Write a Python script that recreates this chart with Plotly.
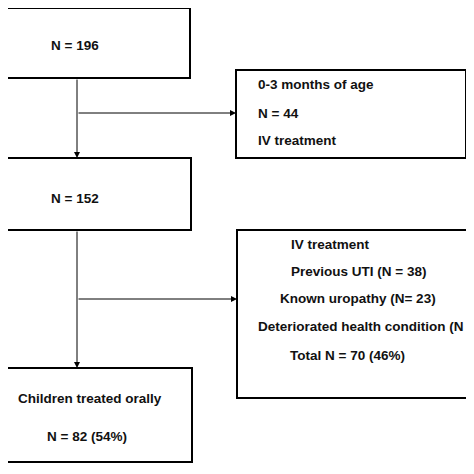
import plotly.graph_objects as go

# boxes: x0, x1, y0, y1 (pixel-like layout units)
box_x0 = [-2, 236, -2, 237, -2]
box_x1 = [190, 466, 191, 490, 192]
box_y0 = [8, 70, 158, 230, 368]
box_y1 = [78, 158, 230, 398, 462]

texts = ["Children with febrile UTI", "N = 196",
         "0-3 months of age", "N = 44", "IV treatment",
         "hildren > 3 months of age", "N = 152",
         "IV treatment", "Previous UTI (N = 38)", "Known uropathy (N= 23)",
         "Deteriorated health condition (N =", "Total N = 70 (46%)",
         "Children treated orally", "N = 82 (54%)"]
text_x = [5, 75, 256, 256, 256, 1, 75, 330, 358, 358, 256, 347, 16, 87]
text_y = [18, 45, 84, 113, 140, 170, 198, 244, 271, 298, 326, 355, 398, 436]
text_anchor = ["left", "center", "left", "left", "left", "left", "center",
               "center", "center", "center", "left", "center", "left", "center"]

# arrows: start (x,y) -> end (x,y)
arr_from = [(77, 78), (77, 113), (77, 230), (77, 299)]
arr_to = [(77, 158), (236, 113), (77, 368), (237, 299)]

fig = go.Figure()
shapes = []
for x0, x1, y0, y1 in zip(box_x0, box_x1, box_y0, box_y1):
    shapes.append(dict(type="rect", x0=x0, x1=x1, y0=y0, y1=y1,
                       line=dict(color="black", width=2), fillcolor="white"))
ann = []
for t, x, y, a in zip(texts, text_x, text_y, text_anchor):
    ann.append(dict(x=x, y=y, text="<b>%s</b>" % t, showarrow=False,
                    xanchor=a, yanchor="middle",
                    font=dict(family="Liberation Sans, Arial", size=13.5, color="#111")))
for (xs, ys), (xe, ye) in zip(arr_from, arr_to):
    ann.append(dict(x=xe, y=ye, ax=xs, ay=ys, xref="x", yref="y", axref="x", ayref="y",
                    text="", showarrow=True, arrowhead=2, arrowsize=1.2,
                    arrowwidth=1, arrowcolor="black"))
fig.update_layout(shapes=shapes, annotations=ann, width=474, height=474,
                  margin=dict(l=0, r=0, t=0, b=0), plot_bgcolor="white",
                  paper_bgcolor="white", showlegend=False)
fig.update_xaxes(range=[8, 482], visible=False)
fig.update_yaxes(range=[482, 8], visible=False)
fig.write_html("out.html")
